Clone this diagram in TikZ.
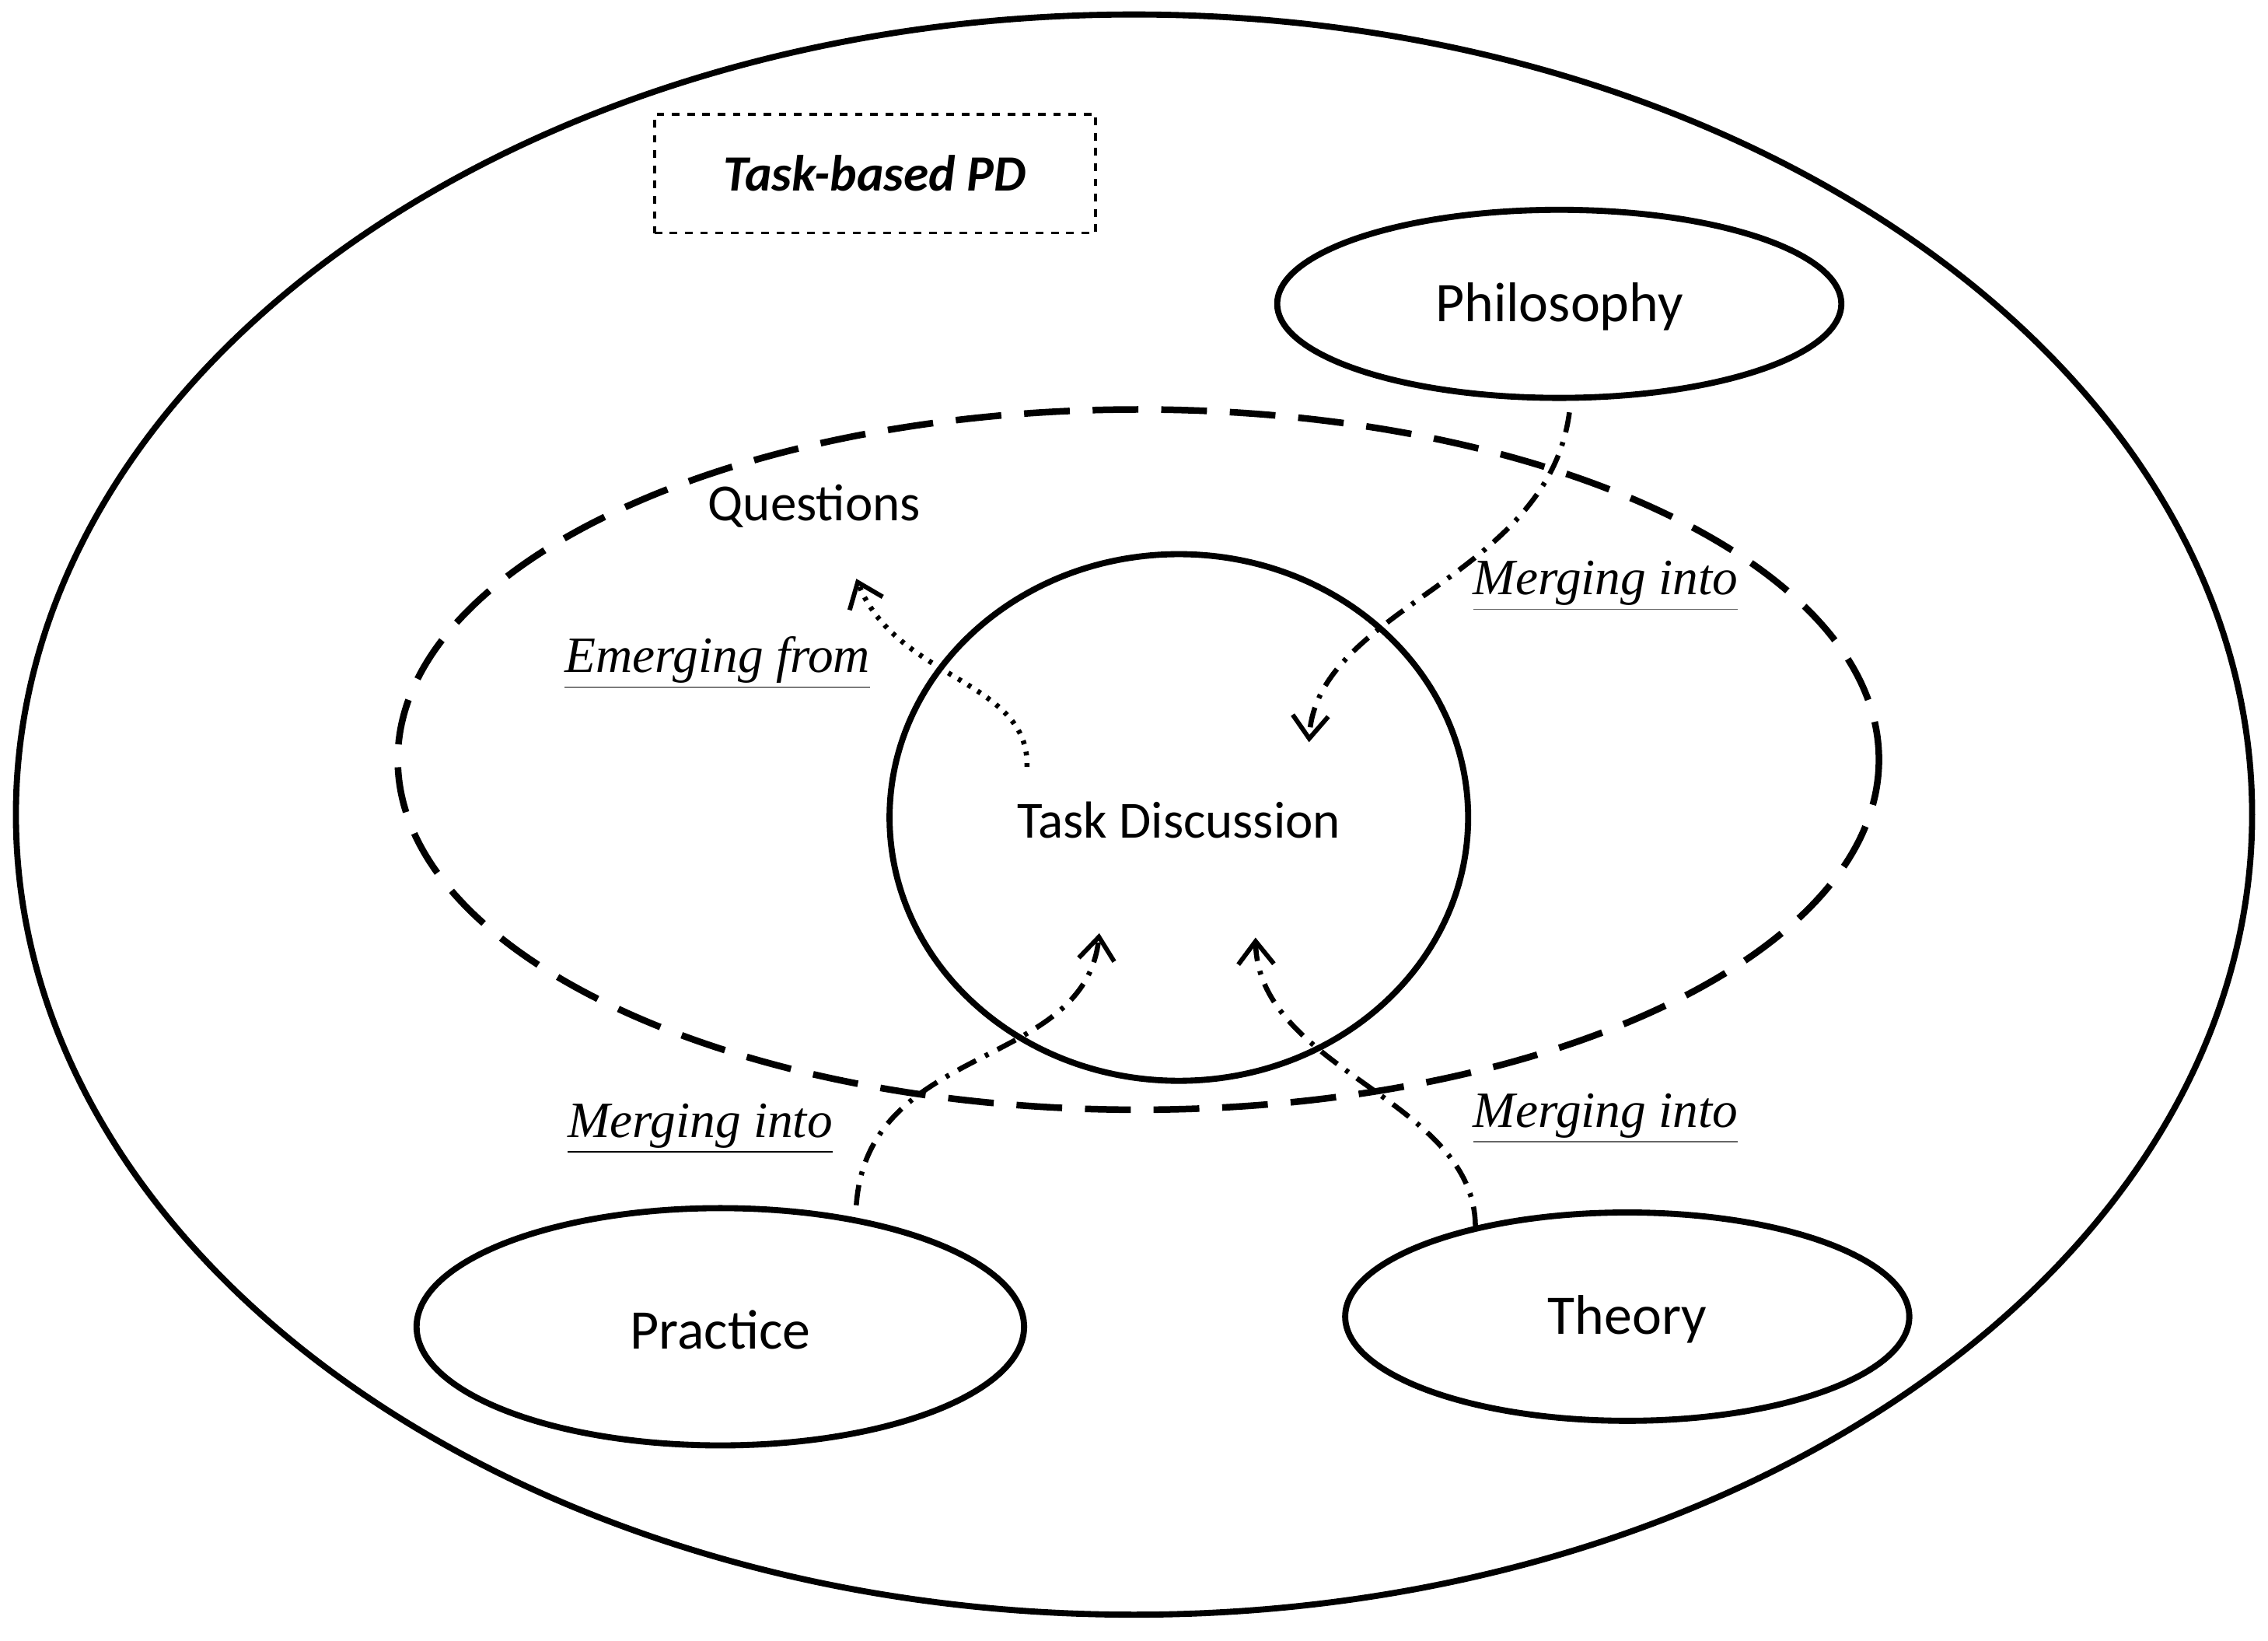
\documentclass[tikz,border=0pt]{standalone}
\usepackage{fontspec}
\setmainfont{Carlito}
\newfontfamily\serifit{Liberation Serif}
\usetikzlibrary{arrows.meta}
\begin{document}
\begin{tikzpicture}[x=0.02cm,y=-0.02cm,
  solid line/.style={line width=2.4pt},
  lbl/.style={font=\fontsize{20}{24}\selectfont\serifit\itshape},
  tip/.style={-{Straight Barb[length=9pt,width=14pt,line width=1.8pt]}, line width=2pt}]
\useasboundingbox (0,0) rectangle (1568,1134);
\draw[solid line] (784,563) ellipse [x radius=773, y radius=553];
\node[draw,dashed,line width=1.2pt,minimum width=305*0.02cm,minimum height=82*0.02cm,font=\fontsize{20}{24}\selectfont\bfseries\itshape] (pd) at (605,120) {Task-based PD};
\draw[line width=2.6pt,dash pattern=on 18pt off 9pt] (787,525) ellipse [x radius=512, y radius=242];
\node[font=\fontsize{20.5}{24}\selectfont] (q) at (563,350) {Questions};
\draw[solid line] (815,565) ellipse [x radius=200, y radius=182];
\node[font=\fontsize{20.5}{24}\selectfont] (td) at (815,567) {Task Discussion};
\draw[solid line] (1078,210) ellipse [x radius=195, y radius=65];
\node[font=\fontsize{22}{26}\selectfont] (phil) at (1078,212) {Philosophy};
\draw[solid line] (498,917) ellipse [x radius=210, y radius=82];
\node[font=\fontsize{22}{26}\selectfont] (prac) at (498,919) {Practice};
\draw[solid line] (1125,910) ellipse [x radius=195, y radius=72];
\node[font=\fontsize{22}{26}\selectfont] (theo) at (1125,912) {Theory};
\coordinate (phS) at (1085,285); \coordinate (phE) at (905,513);
\coordinate (prS) at (592,833); \coordinate (prE) at (760,645);
\coordinate (thS) at (1020,848); \coordinate (thE) at (868,648);
\coordinate (emS) at (710,530); \coordinate (emE) at (592,400);
\draw[tip,dash pattern=on 1.5pt off 3pt] (emS) .. controls (712,470) and (620,470) .. (emE);
\draw[tip,dash pattern=on 8pt off 4pt on 1.5pt off 4pt] (phS) .. controls (1070,400) and (910,420) .. (phE);
\draw[tip,dash pattern=on 8pt off 4pt on 1.5pt off 4pt] (prS) .. controls (600,720) and (750,740) .. (prE);
\draw[tip,dash pattern=on 8pt off 4pt on 1.5pt off 4pt] (thS) .. controls (1020,760) and (870,740) .. (thE);
\node[lbl] (l1) at (496,458) {\underline{Emerging from}};
\node[lbl,text=black!60] (l2) at (1110,405) {\underline{\textcolor{black}{Merging into}}};
\node[lbl] (l3) at (484,780) {\underline{Merging into}};
\node[lbl,text=black!60] (l4) at (1110,773) {\underline{\textcolor{black}{Merging into}}};
\end{tikzpicture}
\end{document}
